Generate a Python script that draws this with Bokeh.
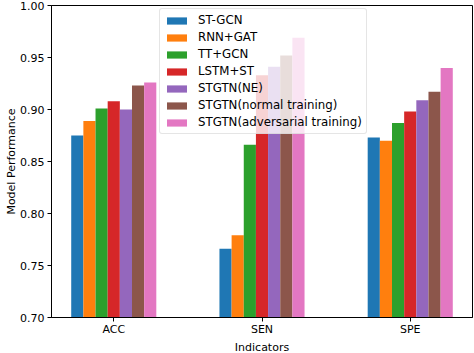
from bokeh.plotting import figure
from bokeh.models import Range1d, FixedTicker, Legend, LegendItem, Title
from bokeh.embed import file_html
from bokeh.resources import INLINE

categories = ["ACC", "SEN", "SPE"]
models = ["ST-GCN", "RNN+GAT", "TT+GCN", "LSTM+ST", "STGTN(NE)",
          "STGTN(normal training)", "STGTN(adversarial training)"]
st_gcn = [0.875, 0.766, 0.873]
rnn_gat = [0.889, 0.779, 0.870]
tt_gcn = [0.901, 0.866, 0.887]
lstm_st = [0.908, 0.933, 0.898]
stgtn_ne = [0.900, 0.941, 0.909]
stgtn_normal = [0.923, 0.952, 0.917]
stgtn_adv = [0.926, 0.969, 0.940]
series = [st_gcn, rnn_gat, tt_gcn, lstm_st, stgtn_ne, stgtn_normal, stgtn_adv]
colors = ["#1f77b4", "#ff7f0e", "#2ca02c", "#d62728", "#9467bd", "#8c564b", "#e377c2"]
y_ticks = [0.70, 0.75, 0.80, 0.85, 0.90, 0.95, 1.00]

FONT = "DejaVu Sans"
p = figure(width=474, height=353, output_backend="svg", toolbar_location=None,
           x_range=Range1d(-0.42, 2.42), y_range=Range1d(0.70, 1.00),
           min_border_left=51, min_border_right=2, min_border_top=5, min_border_bottom=35)

w = 0.082
items = []
for i, (name, vals, c) in enumerate(zip(models, series, colors)):
    xs = [k + (i - 3) * w for k in range(len(categories))]
    r = p.vbar(x=xs, top=vals, bottom=0.70, width=w, fill_color=c, line_color=None)
    items.append(LegendItem(label=name, renderers=[r]))

p.xgrid.visible = False
p.ygrid.visible = False
p.outline_line_color = "black"
p.outline_line_width = 1

p.xaxis.ticker = FixedTicker(ticks=list(range(len(categories))))
p.xaxis.major_label_overrides = {i: c for i, c in enumerate(categories)}
p.yaxis.ticker = FixedTicker(ticks=y_ticks)
p.yaxis.major_label_overrides = {t: f"{t:.2f}" for t in y_ticks}
for ax in (p.xaxis[0], p.yaxis[0]):
    ax.major_label_text_font = FONT
    ax.major_label_text_font_size = "11px"
    ax.major_label_text_color = "black"
    ax.minor_tick_line_color = None
    ax.major_tick_out = 4
    ax.major_tick_in = 0
    ax.axis_line_color = "black"
    ax.major_tick_line_color = "black"
p.xaxis.major_label_standoff = 1
p.yaxis.major_label_standoff = 3

p.add_layout(Title(text="Indicators", align="center", text_font=FONT,
                   text_font_size="11px", text_font_style="normal",
                   text_color="black", standoff=0, offset=0,
                   text_line_height=0.9), "below")
p.add_layout(Title(text="Model Performance", align="center", text_font=FONT,
                   text_font_size="11px", text_font_style="normal",
                   text_color="black", standoff=0, offset=0), "left")

legend = Legend(items=items, location=(108, 183))
legend.label_text_font = FONT
legend.label_text_font_size = "11.8px"
legend.label_text_color = "black"
legend.glyph_width = 25
legend.glyph_height = 9
legend.label_height = 13
legend.spacing = 3
legend.label_standoff = 9
legend.padding = 4
legend.margin = 0
legend.background_fill_alpha = 0.8
legend.border_line_color = "#cccccc"
legend.border_line_width = 1
legend.border_radius = 3
p.add_layout(legend)

open("out.html", "w").write(file_html(p, INLINE))
